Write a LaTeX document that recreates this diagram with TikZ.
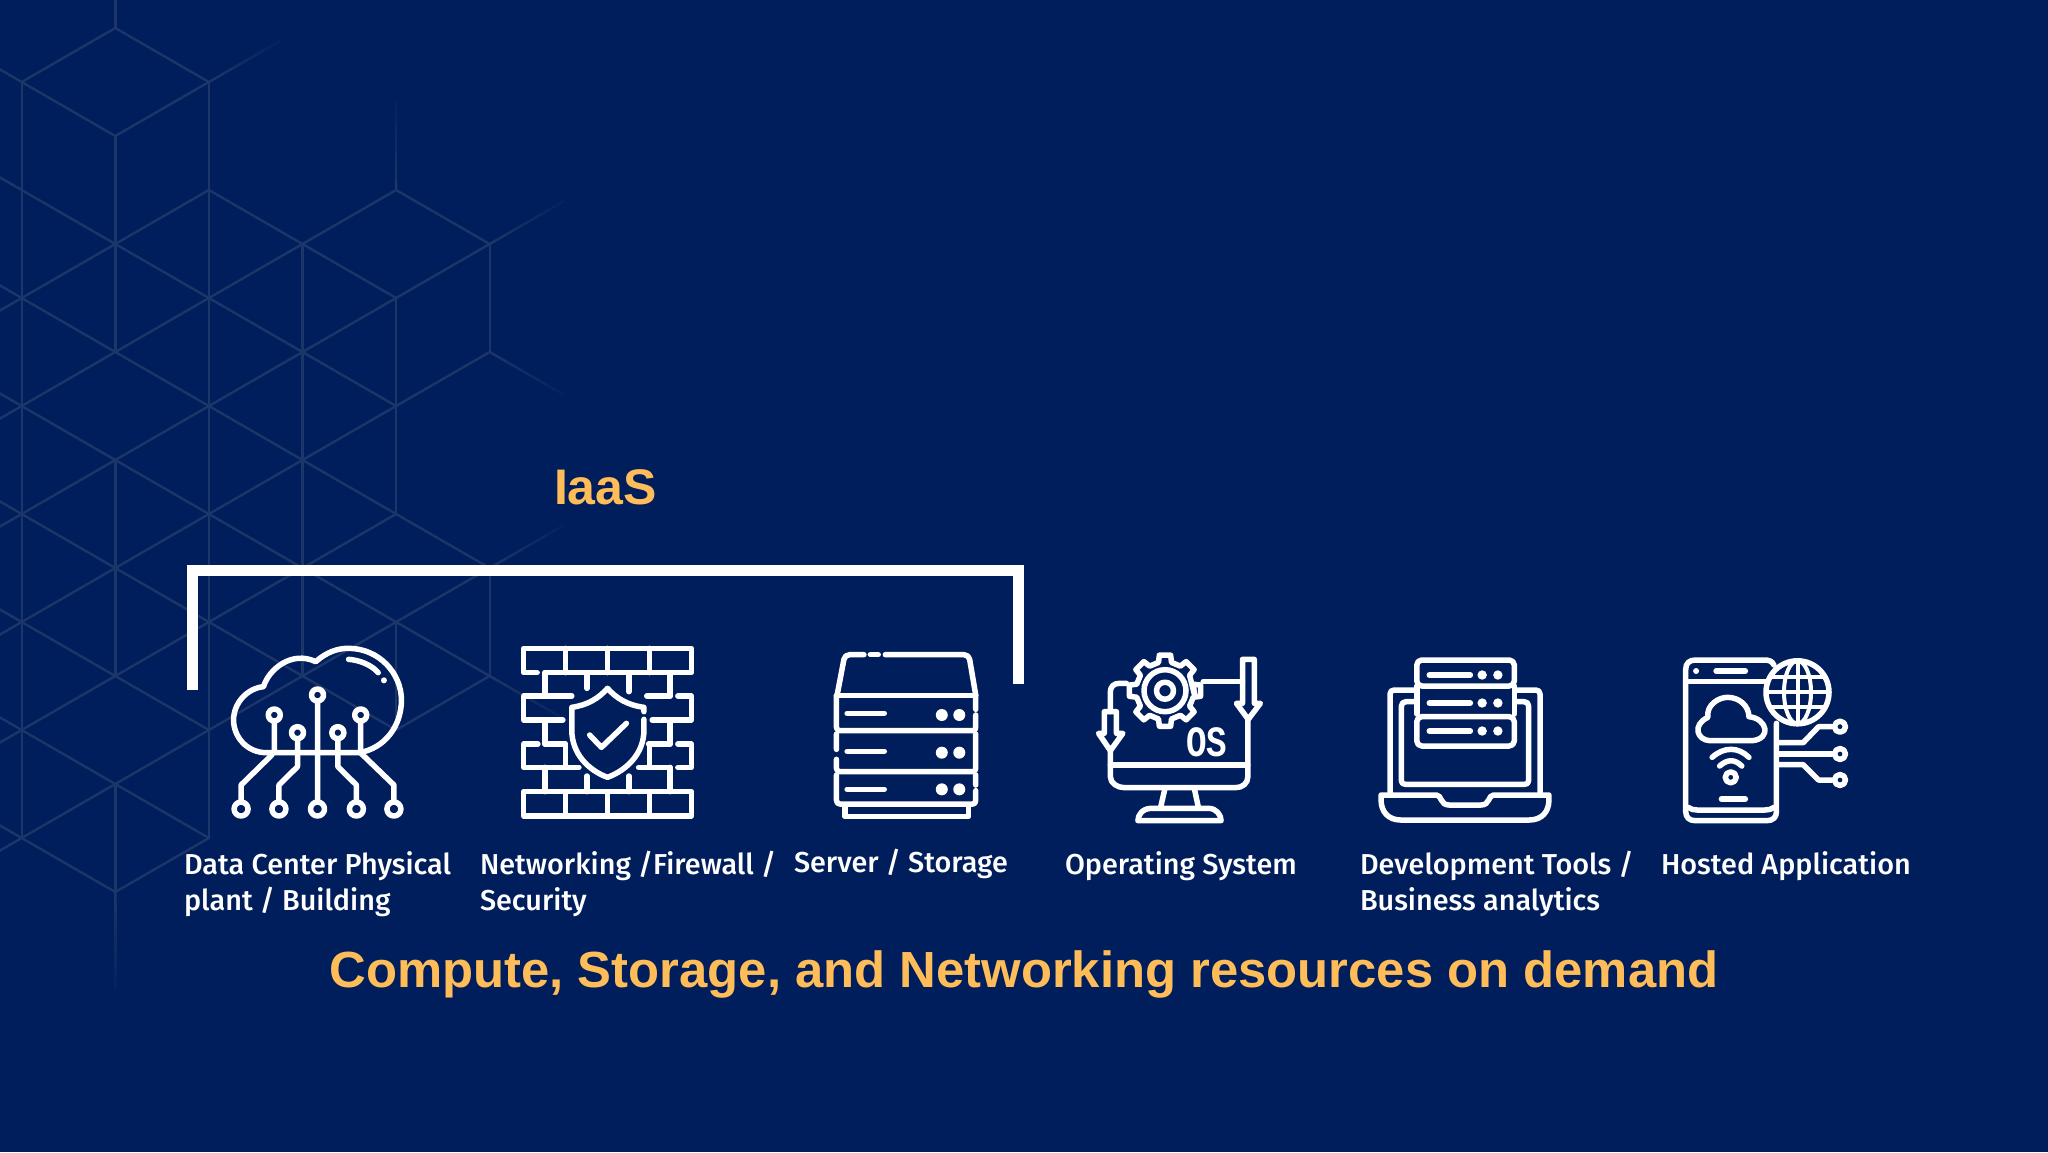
\documentclass[tikz,border=0pt]{standalone}
\usepackage{fontspec}
\usepackage{graphicx}
\usetikzlibrary{calc}
\setmainfont{Fira Sans Medium}
\newfontfamily\titlefont{Liberation Sans}
\newfontfamily\osfont{Liberation Mono}
\definecolor{bgblue}{HTML}{001E5B}
\definecolor{latline}{HTML}{1C3669}
\definecolor{accent}{HTML}{FFBD59}
\tikzset{
 lat/.style={draw=latline,line width=2.4pt},
 ico/.style={draw=white,line width=5.5pt,line join=round,line cap=round},
 lab/.style={anchor=base west,text=white,font=\fontsize{28.8}{35}\selectfont,inner sep=0pt,outer sep=0pt},
 zA/.style={shift={(170,620)},x=0.35714pt,y=-0.33333pt},
 zB/.style={shift={(780,620)},x=0.35714pt,y=-0.33333pt},
 zC/.style={shift={(1340,620)},x=0.35714pt,y=-0.33333pt},
}
\newcommand{\fadeseg}[4]{% from (i,k) strong to (i,k) faint
 \foreach \t [evaluate=\t as \m using {100-\t*100}] in {0,0.1,...,0.9}{
  \pgfmathsetmacro{\tt}{\t+0.1}
  \draw[draw=latline!\m!bgblue,line width=2.4pt]
   ($(#1,#2)!\t!(#3,#4)$) -- ($(#1,#2)!\tt!(#3,#4)$);
 }}
\begin{document}
\begin{tikzpicture}[x=1pt,y=-1pt]
\useasboundingbox (0,0) rectangle (2048,1152);
\fill[bgblue] (0,0) rectangle (2048,1152);
\clip (0,0) rectangle (2048,1152);
% lattice
\begin{scope}[shift={(21.7,28)},x=93.6pt,y=-54pt,line cap=round]
\foreach \a/\b/\c/\d in {
 1/-1/1/0, -1/0/0/1, 0/1/1/0, 1/0/2/1, 0/1/1/2, 1/2/2/1,
 0/1/0/15, 2/1/2/15, 1/2/1/6, 1/8/1/12, 1/14/1/16, 3/4/3/12,
 4/5/4/9, 4/11/4/13, 5/4/5/6, 5/10/5/12,
 -1/2/0/3, 0/3/1/4, 1/4/2/3, 2/3/3/4, 3/4/4/3, 4/3/5/4,
 -1/4/0/5, 0/5/1/4, 1/4/2/5, 2/5/3/4, 3/4/4/5, 4/5/5/4,
 -1/6/0/5, 0/5/1/6, 1/6/2/5, 2/5/3/6, 3/6/4/5,
 -1/6/0/7, 0/7/1/6, 1/6/2/7, 2/7/3/6, 3/6/4/7, 4/7/5/6,
 -1/8/0/7, 0/7/1/8, 1/8/2/7, 2/7/3/8, 3/8/4/7,
 -1/8/0/9, 0/9/1/8, 2/9/3/8, 3/8/4/9, 1/8/2/9,
 -1/10/0/9, 0/9/1/10, 1/10/2/9, 2/9/3/10, 3/10/4/9, 4/9/5/10,
 -1/10/0/11, 0/11/1/10, 1/10/2/11, 2/11/3/10, 3/10/4/11, 4/11/5/10,
 -1/12/0/11, 0/11/1/12, 1/12/2/11, 2/11/3/12, 3/12/4/11, 4/11/5/12,
 -1/12/0/13, 0/13/1/12, 1/12/2/13, 2/13/3/12, 3/12/4/13, 4/13/5/12,
 -1/14/0/13, 0/13/1/14, 1/14/2/13,
 -1/14/0/15, 0/15/1/14, 1/14/2/15,
 -1/16/0/15, 0/15/1/16, 1/16/2/15}
 {\draw[lat] (\a,\b) -- (\c,\d);}
\fadeseg{2}{1}{2.85}{0.15}
\fadeseg{4}{3}{4}{1.2}
\fadeseg{5}{4}{5.88}{3.12}
\fadeseg{5}{6}{5.88}{6.88}
\fadeseg{5}{10}{5.88}{9.12}
\fadeseg{5}{12}{6}{13}
\fadeseg{1}{16}{1}{18}
\end{scope}
% bracket
\draw[white,line width=11pt,line cap=butt,line join=miter] (192,690) -- (192,570.5) -- (1018.5,570.5) -- (1018.5,684);
% texts
\node (iaas) [anchor=base,text=accent,font=\titlefont\bfseries\fontsize{50}{50}\selectfont,inner sep=0pt] at (605.5,504) {IaaS};
\node (title) [anchor=base,text=accent,font=\titlefont\bfseries\fontsize{50.8}{51}\selectfont,inner sep=0pt] at (1024,987) {Compute, Storage, and Networking resources on demand};
\node (l1a) [lab] at (184,874.5) {Data Center Physical};
\node (l1b) [lab] at (184,910) {plant / Building};
\node (l2a) [lab] at (480,874.5) {Networking /Firewall /};
\node (l2b) [lab] at (480,910) {Security};
\node (l3) [lab] at (794,872.5) {Server / Storage};
\node (l4) [lab] at (1065,874.5) {Operating System};
\node (l5a) [lab] at (1360,874.5) {Development Tools /};
\node (l5b) [lab] at (1360,910) {Business analytics};
\node (l6) [lab] at (1661,874.5) {Hosted Application};
% ---- icon 1 cloud
\begin{scope}[zA]
\draw[ico] (270,398) .. controls (215,398) and (178,350) .. (178,300) .. controls (178,250) and (215,205) .. (262,200) .. controls (275,150) and (340,90) .. (408,125) .. controls (440,95) and (470,85) .. (500,85) .. controls (585,85) and (648,160) .. (648,240) .. controls (648,320) and (600,385) .. (530,398) -- cycle;
\draw[ico] (500,118) .. controls (530,120) and (565,135) .. (583,158);
\fill[white] (599,181) circle (3pt);
\draw[ico] (292,308) -- (292,398) (534,308) -- (534,398)
 (357,360) -- (357,440) -- (305,495) -- (305,541)
 (470,360) -- (470,440) -- (522,495) -- (522,541)
 (413,250) -- (413,541)
 (285,405) -- (199,495) -- (199,541)
 (535,400) -- (627,495) -- (627,541);
\foreach \p in {(413,225),(292,285),(534,285),(357,338),(470,338)} \draw[ico] \p circle (6pt);
\foreach \p in {(199,567),(305,567),(413,567),(522,567),(627,567)} \draw[ico] \p circle (7pt);
% ---- icon 2 firewall
\draw[ico] (1028,158) -- (990,158) -- (990,85) -- (1460,85) -- (1460,158) -- (1050,158);
\draw[ico] (1108,85) -- (1108,158) (1225,85) -- (1225,158) (1343,85) -- (1343,158);
\draw[ico] (1050,158) -- (1050,228) (1167,158) -- (1167,205) (1285,158) -- (1285,215) (1400,158) -- (1400,228);
\draw[ico] (1125,228) -- (990,228) -- (990,300) -- (1100,300);
\draw[ico] (1335,228) -- (1400,228) (1422,228) -- (1460,228) -- (1460,300) -- (1350,300);
\draw[ico] (1050,300) -- (1050,372) (1400,300) -- (1400,372);
\draw[ico] (1030,372) -- (990,372) -- (990,442) -- (1145,442);
\draw[ico] (1050,372) -- (1108,372) -- (1108,442);
\draw[ico] (1340,372) -- (1400,372) (1343,372) -- (1343,442) (1422,372) -- (1460,372) -- (1460,442) -- (1422,442) (1312,442) -- (1400,442);
\draw[ico] (1050,442) -- (1050,515) (1167,468) -- (1167,515) (1285,468) -- (1285,515) (1400,442) -- (1400,515);
\draw[ico] (990,515) rectangle (1460,588);
\draw[ico] (1108,515) -- (1108,588) (1225,515) -- (1225,588) (1343,515) -- (1343,588);
\draw[ico] (1327,275) -- (1327,262) .. controls (1280,255) and (1250,235) .. (1225,205) .. controls (1200,235) and (1170,255) .. (1125,262) -- (1125,330) .. controls (1125,400) and (1170,450) .. (1225,472) .. controls (1280,450) and (1327,400) .. (1327,330) -- (1327,298);
\draw[ico] (1175,345) -- (1208,382) -- (1278,310);
\end{scope}
% ---- icon 3 server
\begin{scope}[zB]
\draw[ico] (235,104) -- (195,104) .. controls (186,104) and (181,110) .. (179,118) -- (160,225);
\draw[ico] (253,104) -- (275,104);
\draw[ico] (295,104) -- (515,104) .. controls (524,104) and (529,110) .. (531,118) -- (548,225);
\draw[ico] (158,227) -- (548,227);
\draw[ico] (548,227) -- (548,268) (548,285) -- (548,322) .. controls (548,328) and (545,332) .. (540,332) -- (168,332) .. controls (162,332) and (158,328) .. (158,322) -- (158,227);
\draw[ico] (158,342) -- (158,388) (158,418) -- (158,445) .. controls (158,450) and (162,455) .. (168,455) -- (540,455) .. controls (545,455) and (548,450) .. (548,445) -- (548,342);
\draw[ico] (158,465) -- (158,540) .. controls (158,548) and (162,552) .. (168,552) -- (540,552) .. controls (545,552) and (548,548) .. (548,540) -- (548,512) (548,465) -- (548,495);
\draw[ico] (182,560) -- (182,590) -- (528,590) -- (528,560);
\draw[ico] (188,280) -- (292,280) (188,394) -- (292,394) (188,508) -- (292,508);
\foreach \p in {(453,285),(502,285),(453,398),(502,398),(453,508),(502,508)} \fill[white] \p circle (6pt);
% ---- icon 4 OS
\draw[ico] (970,190) -- (950,190) .. controls (935,190) and (925,200) .. (925,215) -- (925,275);
\draw[ico] (908,275) -- (942,275) -- (942,340) -- (960,340) -- (925,392) -- (892,340) -- (908,340) -- cycle;
\draw[ico] (925,392) -- (925,470) .. controls (925,490) and (945,503) .. (965,503) -- (1275,503) .. controls (1295,503) and (1310,490) .. (1310,470) -- (1310,300);
\draw[ico] (1295,118) -- (1328,118) -- (1328,250) -- (1345,250) -- (1311,298) -- (1278,250) -- (1295,250) -- cycle;
\draw[ico] (1185,185) -- (1295,185) (925,435) -- (1310,435);
\draw[ico] (1078,505) -- (1065,565) (1160,505) -- (1172,565);
\draw[ico] (1002,602) .. controls (1002,585) and (1015,565) .. (1040,565) -- (1200,565) .. controls (1222,565) and (1235,585) .. (1235,602) -- cycle;
\node (osword) [anchor=center,text=white,font=\osfont\bfseries\fontsize{36}{36}\selectfont,inner sep=0pt] at (1195,368) {\scalebox{0.95}[1.2]{OS}};
\end{scope}
\begin{scope}[shift={(1165,690.7)}]
\draw[ico] (9:30) \foreach \a in {0,45,...,315}{ -- (\a-13:29) -- (\a-9:36) -- (\a+9:36) -- (\a+13:29)} -- cycle;
\draw[ico] (0,0) circle (21pt) (0,0) circle (8.5pt);
\end{scope}
% ---- icon 5 laptop
\begin{scope}[zC]
\draw[ico] (210,210) -- (152,210) .. controls (145,210) and (140,214) .. (140,222) -- (140,522);
\draw[ico] (490,210) -- (548,210) .. controls (555,210) and (560,214) .. (560,222) -- (560,522);
\draw[ico] (210,245) -- (185,245) .. controls (177,245) and (172,250) .. (172,258) -- (172,483) .. controls (172,490) and (177,493) .. (184,493) -- (516,493) .. controls (523,493) and (528,490) .. (528,483) -- (528,258) .. controls (528,250) and (523,245) .. (515,245) -- (490,245);
\draw[ico] (115,525) -- (270,525) .. controls (285,525) and (280,555) .. (305,555) -- (395,555) .. controls (420,555) and (415,525) .. (430,525) -- (585,525) -- (585,540) .. controls (585,575) and (565,600) .. (530,600) -- (170,600) .. controls (135,600) and (115,575) .. (115,540) -- cycle;
\draw[ico,rounded corners=5pt] (215,120) rectangle (488,198);
\draw[ico] (215,198) -- (215,282) (488,198) -- (488,282);
\draw[ico,rounded corners=5pt] (215,290) rectangle (488,378);
\draw[ico] (250,165) -- (365,165) (250,249) -- (365,249) (250,333) -- (365,333);
\foreach \y in {165,249,333}{\fill[white] (398,\y) circle (4.7pt) (442,\y) circle (4.7pt);}
% ---- icon 6 phone
\draw[ico] (1215,135) .. controls (1210,125) and (1203,120) .. (1195,120) -- (995,120) .. controls (978,120) and (968,130) .. (968,148) -- (968,575) .. controls (968,592) and (978,602) .. (995,602) -- (1195,602) .. controls (1212,602) and (1222,592) .. (1222,575) -- (1222,310);
\draw[ico] (968,185) -- (1192,185);
\fill[white] (997,153) circle (3pt);
\draw[ico] (1053,153) -- (1135,153) (1068,537) -- (1135,537);
\draw[ico] (975,562) .. controls (982,568) and (990,570) .. (1000,570) -- (1190,570) .. controls (1200,570) and (1208,568) .. (1215,562);
\draw[ico] (1035,362) .. controls (1000,360) and (985,315) .. (1030,292) .. controls (1025,255) and (1060,232) .. (1085,232) .. controls (1120,232) and (1145,260) .. (1145,290) .. controls (1195,295) and (1210,355) .. (1155,362) -- cycle;
\draw[ico] (1094,472) circle (5.5pt);
\draw[ico] (1063,438) .. controls (1085,417) and (1105,417) .. (1125,438);
\draw[ico] (1042,412) .. controls (1075,380) and (1115,380) .. (1145,412);
\draw[ico] (1228,368) -- (1297,368) -- (1340,320) -- (1378,320);
\draw[ico] (1228,402) -- (1378,402);
\draw[ico] (1228,434) -- (1297,434) -- (1340,480) -- (1378,480);
\foreach \y in {320,402,480} \draw[ico] (1400,\y) circle (5.5pt);
\end{scope}
\begin{scope}[shift={(1797.5,692.3)}]
\draw[ico] (0,0) circle (31.5pt);
\draw[ico,line width=4pt] (0,0) ellipse (13.5pt and 31.5pt);
\draw[ico,line width=4pt] (0,-31) -- (0,31) (-31,0) -- (31,0) (-27,-15) -- (27,-15) (-27,15) -- (27,15);
\end{scope}
\end{tikzpicture}
\end{document}
